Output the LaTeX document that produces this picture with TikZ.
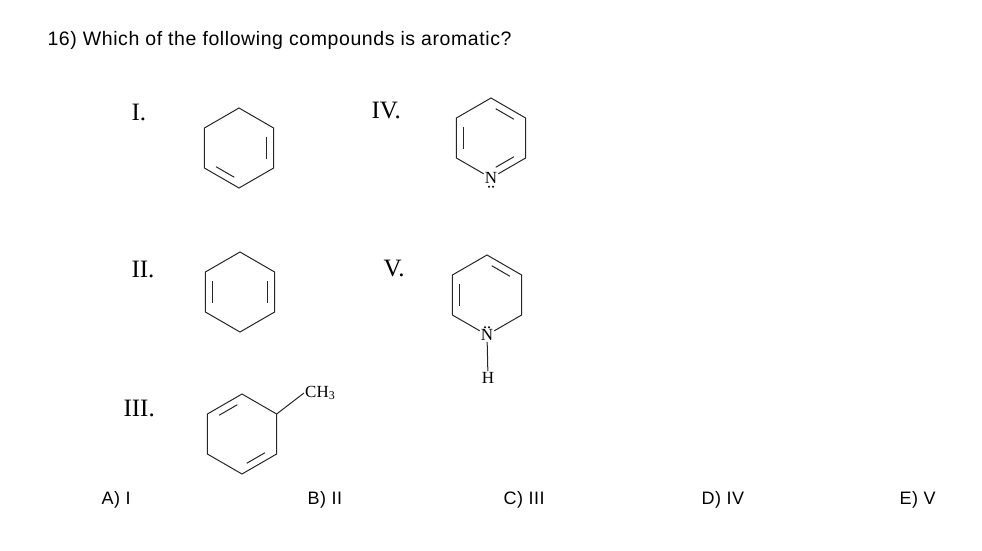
\documentclass[tikz,border=0pt]{standalone}
\usepackage{fontspec}
\setmainfont{Liberation Serif}
\newfontfamily\qf{Liberation Sans}[LetterSpace=3]
\usetikzlibrary{calc}
\tikzset{bond/.style={line width=1pt,black!85},
 lab/.style={font=\fontsize{25}{25}\selectfont,anchor=west},
 ans/.style={font=\qf\fontsize{18}{18}\selectfont,anchor=west},
 atom/.style={font=\fontsize{17}{17}\selectfont,inner sep=1pt},
 lp/.style={circle,fill=black,inner sep=0pt,minimum size=2.2pt}}
\newcommand\ring[3]{% name, cx, cy
 \coordinate (#1c) at (#2,#3);
 \coordinate (#1t) at (#2,#3-40);
 \coordinate (#1ur) at (#2+34.6,#3-20);
 \coordinate (#1lr) at (#2+34.6,#3+20);
 \coordinate (#1b) at (#2,#3+40);
 \coordinate (#1ll) at (#2-34.6,#3+20);
 \coordinate (#1ul) at (#2-34.6,#3-20);}
\newcommand\dbl[3]{\draw[bond] ($($(#1)!0.17!(#2)$)!0.2!(#3)$) -- ($($(#1)!0.83!(#2)$)!0.2!(#3)$);}
\begin{document}
\begin{tikzpicture}[x=1pt,y=-1pt]
\useasboundingbox (0,0) rectangle (982,550);
\node[ans,font=\qf\fontsize{19.5}{19.5}\selectfont] (q) at (44,40) {16) Which of the following compounds is aromatic?};
\node[lab] (l1) at (128,112) {I.};
\node[lab] (l2) at (128,269) {II.};
\node[lab] (l3) at (120,408) {III.};
\node[lab] (l4) at (368,110) {IV.};
\node[lab] (l5) at (380,268) {V.};
% I
\ring{a}{239}{148}
\draw[bond] (at)--(aur)--(alr)--(ab)--(all)--(aul)--cycle;
\dbl{aur}{alr}{ac}\dbl{all}{ab}{ac}
% II
\ring{b}{240}{292}
\draw[bond] (bt)--(bur)--(blr)--(bb)--(bll)--(bul)--cycle;
\dbl{bur}{blr}{bc}\dbl{bll}{bul}{bc}
% III
\ring{c}{242}{434}
\draw[bond] (ct)--(cur)--(clr)--(cb)--(cll)--(cul)--cycle;
\dbl{cul}{ct}{cc}\dbl{clr}{cb}{cc}
\node[atom,anchor=west] (ch3) at (304,393) {CH\textsubscript{3}};
\draw[bond] (cur)--(ch3.west);
% IV
\ring{d}{491}{138}
\node[atom] (n4) at (db) {N};
\node[lp] (lp4a) at ($(n4.south)+(-2,2)$) {};
\node[lp] (lp4b) at ($(n4.south)+(2,2)$) {};
\draw[bond] (n4)--(dll)--(dul)--(dt)--(dur)--(dlr)--(n4);
\dbl{dll}{dul}{dc}\dbl{dt}{dur}{dc}\dbl{dlr}{db}{dc}
% V
\ring{e}{487}{295}
\node[atom] (n5) at (eb) {N};
\node[lp] (lp5a) at ($(n5.north)+(-2,-1)$) {};
\node[lp] (lp5b) at ($(n5.north)+(2,-1)$) {};
\node[atom] (h5) at (488,378) {H};
\draw[bond] (n5)--(ell)--(eul)--(et)--(eur)--(elr)--(n5);
\draw[bond] (n5)--(h5);
\dbl{ell}{eul}{ec}\dbl{et}{eur}{ec}
% answers
\node[ans] (a1) at (98,500) {A) I};
\node[ans] (a2) at (304,500) {B) II};
\node[ans] (a3) at (500,500) {C) III};
\node[ans] (a4) at (698,500) {D) IV};
\node[ans] (a5) at (896,500) {E) V};
\end{tikzpicture}
\end{document}
